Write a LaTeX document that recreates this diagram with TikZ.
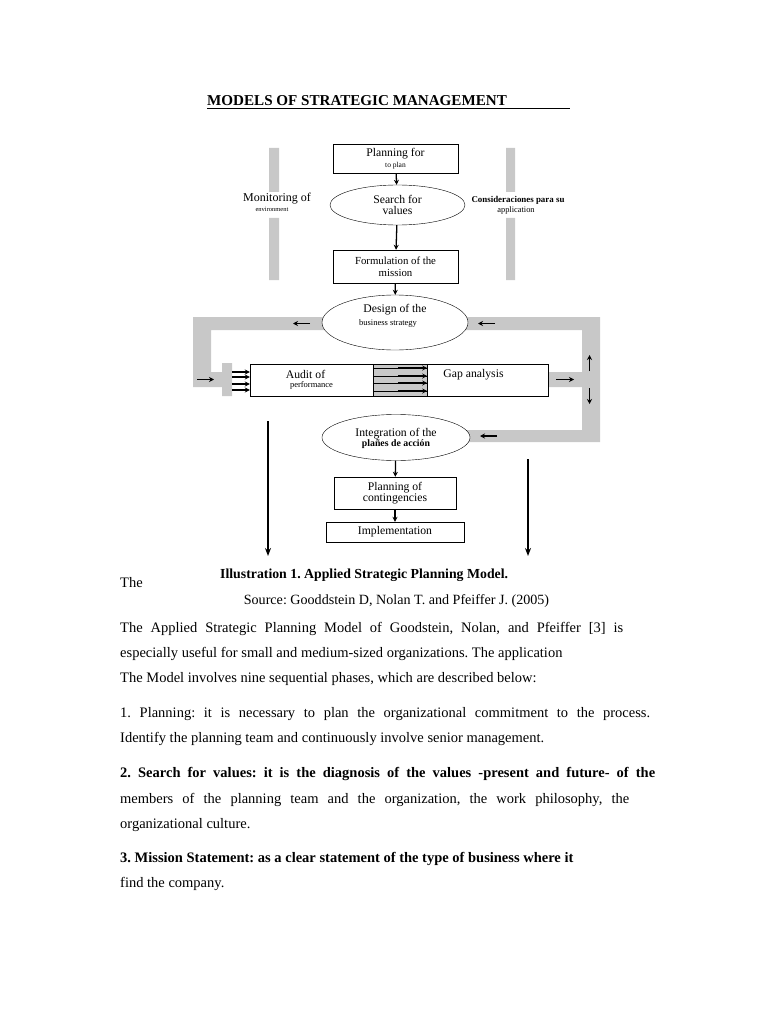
\documentclass[tikz,border=0pt]{standalone}
\usepackage{fontspec}
\setmainfont{Liberation Serif}
\usetikzlibrary{shapes.geometric,arrows.meta,positioning}
\definecolor{band}{RGB}{200,200,200}

\tikzset{
  stepbox/.style={draw, rectangle, inner sep=0pt, align=center, font=\fontsize{11.7}{11.5}\selectfont},
  oval/.style={draw, ellipse, fill=white, inner sep=0pt, align=center, font=\fontsize{11.7}{11.5}\selectfont},
  pfl/.style={-{Stealth[length=5pt,width=5pt]}, line width=1.3pt},
  longpfl/.style={-{Stealth[length=8pt,width=6pt]}, line width=1.6pt},
  body/.style={anchor=base west, inner sep=0pt, font=\fontsize{14.5}{17}\selectfont},
}
\newcommand{\smalltxt}[1]{{\fontsize{8.5}{9}\selectfont #1}}
\frenchspacing

\begin{document}
\begin{tikzpicture}[x=1pt, y=-1pt]
    \useasboundingbox (0,0) rectangle (768,1024);

    % title
    \node[anchor=base west, inner sep=0pt, font=\fontsize{15.1}{16}\selectfont\bfseries] (title) at (207,105.5) {MODELS OF STRATEGIC MANAGEMENT};
    \draw[line width=0.9pt] (207,108) -- (570,108);

    % side bars
    \fill[band] (269,148) rectangle (279,192) (269,218) rectangle (279,280);
    \fill[band] (506,148) rectangle (515,192) (506,218) rectangle (515,280);
    \node[inner sep=0pt, font=\fontsize{12}{12}\selectfont] (monit) at (277,199) {Monitoring of};
    \node[inner sep=0pt, font=\fontsize{6.5}{7}\selectfont] (envir) at (272,209) {environment};
    \node[inner sep=0pt, font=\fontsize{8.9}{9}\selectfont\bfseries] (consid) at (518,200) {Consideraciones para su};
    \node[inner sep=0pt, font=\fontsize{8.4}{9}\selectfont] (applic) at (516,210.5) {application};

    % grey loop
    \fill[band] (193,317) rectangle (600,330)
                (582,317) rectangle (600,442)
                (395,430) rectangle (600,442)
                (193,317) rectangle (211,387)
                (193,372) rectangle (232,387)
                (222,363) rectangle (232,396)
                (548,372) rectangle (583,387);

    % main chain
    \node[stepbox, minimum width=125pt, minimum height=29pt] (plan) at (395.5,158.5) {Planning for\\[-1pt]{\fontsize{7.5}{8}\selectfont to plan}};
    \node[oval, minimum width=135pt, minimum height=40pt] (search) at (397.5,205) {Search for\\values};
    \node[stepbox, minimum width=125pt, minimum height=33pt, font=\fontsize{10.8}{11.5}\selectfont] (mission) at (395.5,266.5) {Formulation of the\\mission};
    \node[oval, minimum width=146pt, minimum height=55pt] (design) at (395,322.5) {Design of the\\[1pt]\hspace*{-14pt}\smalltxt{business strategy}\\[4pt]};

    \node[stepbox, minimum width=123pt, minimum height=32pt] (audit) at (311.5,380) {\hspace*{-12pt}Audit of\\[-2pt]\smalltxt{performance}};
    \node[stepbox, fill=band, minimum width=54pt, minimum height=32pt] (mid) at (400,380) {};
    \node[stepbox, minimum width=121pt, minimum height=32pt] (gap) at (487.5,380) {Gap analysis\hspace*{28pt}\\[1pt]};

    \node[oval, minimum width=148pt, minimum height=46pt, text height=20pt] (integ) at (396,437.5) {Integration of the\\[-2pt]{\fontsize{9.8}{10}\selectfont\bfseries plañes de acción}};
    \node[stepbox, minimum width=122pt, minimum height=32pt] (conting) at (395,493) {Planning of\\contingencies};
    \node[stepbox, minimum width=138pt, minimum height=20pt] (impl) at (395,532) {Implementation};

    \draw[pfl] (plan) -- (search);
    \draw[pfl] (search) -- (mission);
    \draw[pfl] (mission) -- (design);
    \draw[pfl] (integ) -- (conting);
    \draw[pfl] (conting) -- (impl);

    % arrows in the middle block
    \foreach \dy in {12,4,-3,-11} {
        \draw[line width=0.4pt] ([yshift=\dy pt]mid.west) -- ([yshift=\dy pt]mid.east);
        \draw[pfl] ([xshift=25pt, yshift=\dy pt]mid.west) -- ([yshift=\dy pt]mid.east);
    }
    % arrows into the audit
    \foreach \dy in {8,3,-4,-10}
        \draw[pfl] ([xshift=-18pt, yshift=\dy pt]audit.west) -- ([yshift=\dy pt]audit.west);

    % arrows along the loop
    \draw[pfl] (310,323.5) -- (293,323.5);
    \draw[pfl] (495,323.5) -- (478,323.5);
    \draw[pfl] (197,379.5) -- (214,379.5);
    \draw[pfl] (556,379.5) -- (574,379.5);
    \draw[pfl] (589.5,371) -- (589.5,355);
    \draw[pfl] (589.5,388) -- (589.5,404);
    \draw[pfl] (497,436) -- (480,436);

    % long arrows
    \draw[longpfl] (268,421) -- (268,556);
    \draw[longpfl] (528,459) -- (528,556);

    % caption
    \node[anchor=base west, inner sep=0pt, font=\fontsize{13.8}{15}\selectfont\bfseries] (capt) at (220,578) {Illustration 1. Applied Strategic Planning Model.};
    \node[body] (the) at (120,587) {The};
    \node[anchor=base, inner sep=0pt, font=\fontsize{14.1}{15}\selectfont] (source) at (396.5,604) {Source: Gooddstein D, Nolan T. and Pfeiffer J. (2005)};

    % text
    \node[body] (l1) at (120,632) {\makebox[503pt][s]{The Applied Strategic Planning Model of Goodstein, Nolan, and Pfeiffer [3] is}};
    \node[body] (l2) at (120,657) {especially useful for small and medium-sized organizations. The application};
    \node[body] (l3) at (120,682) {The Model involves nine sequential phases, which are described below:};
    \node[body] (l4) at (120,717) {\makebox[530pt][s]{1. Planning: it is necessary to plan the organizational commitment to the process.}};
    \node[body] (l5) at (120,742) {Identify the planning team and continuously involve senior management.};
    \node[body, font=\fontsize{14.5}{17}\selectfont\bfseries] (l6) at (120,777) {\makebox[535pt][s]{2. Search for values: it is the diagnosis of the values -present and future- of the}};
    \node[body] (l7) at (120,803) {\makebox[509pt][s]{members of the planning team and the organization, the work philosophy, the}};
    \node[body] (l8) at (120,828) {organizational culture.};
    \node[body, font=\fontsize{14.5}{17}\selectfont\bfseries] (l9) at (120,862) {3. Mission Statement: as a clear statement of the type of business where it};
    \node[body] (l10) at (120,887) {find the company.};

\end{tikzpicture}
\end{document}
